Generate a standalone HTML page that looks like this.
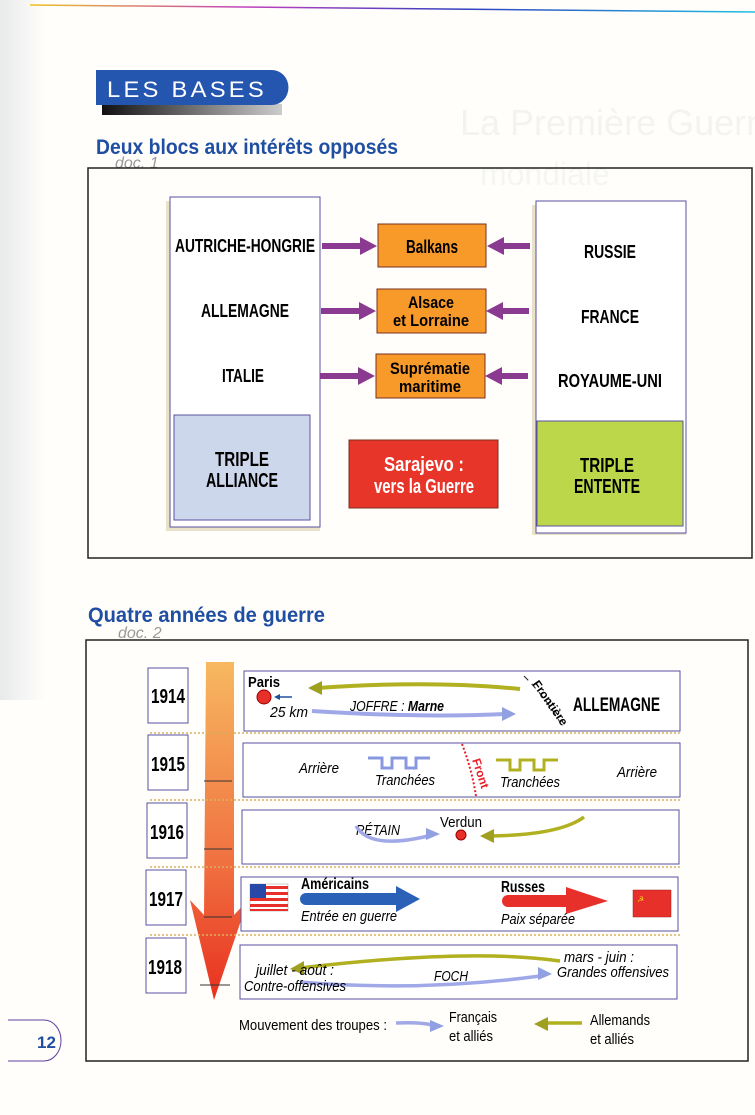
<!DOCTYPE html>
<html><head><meta charset="utf-8"><style>
html,body{margin:0;padding:0;background:#fffefb;}
svg{display:block;font-family:"Liberation Sans",sans-serif;}
.c{font-weight:bold;}
</style></head><body>
<svg width="755" height="1115" viewBox="0 0 755 1115" xmlns="http://www.w3.org/2000/svg">
<defs>
<linearGradient id="lg" x1="0" x2="1"><stop offset="0" stop-color="#d8dde0"/><stop offset="1" stop-color="#fffefb"/></linearGradient>
<linearGradient id="sh" x1="0" x2="1"><stop offset="0" stop-color="#111"/><stop offset="1" stop-color="#ccc"/></linearGradient>
<linearGradient id="va" x1="0" x2="0" y1="0" y2="1"><stop offset="0" stop-color="#f7b860"/><stop offset="0.6" stop-color="#f07040"/><stop offset="1" stop-color="#e83020"/></linearGradient>
<linearGradient id="rl" x1="0" x2="1"><stop offset="0" stop-color="#f0c020"/><stop offset="0.3" stop-color="#c040c0"/><stop offset="0.6" stop-color="#3040c0"/><stop offset="1" stop-color="#20c0e0"/></linearGradient>
</defs>
<rect width="755" height="1115" fill="#fffefb"/>
<rect x="0" y="0" width="45" height="700" fill="url(#lg)" opacity="0.6"/>
<line x1="30" y1="5" x2="755" y2="12" stroke="url(#rl)" stroke-width="1.5"/>
<!-- ghost title -->
<text x="460" y="135" font-size="36" fill="#f3f3ef">La Première Guerre</text>
<text x="480" y="185" font-size="32" fill="#f5f5f1">mondiale</text>

<!-- LES BASES -->
<rect x="102" y="104" width="180" height="11" fill="url(#sh)"/>
<path d="M96 70 H272 a16 17 0 0 1 0 35 H96 Z" fill="#2456b0"/>
<text x="107" y="97" font-size="22" fill="#fff" letter-spacing="3" textLength="160" lengthAdjust="spacingAndGlyphs">LES BASES</text>
<text x="96" y="154" font-size="21" fill="#1f4ea3" class="c" textLength="302" lengthAdjust="spacingAndGlyphs">Deux blocs aux intérêts opposés</text>
<text x="115" y="168" font-size="16" fill="#999" font-style="italic">doc. 1</text>

<!-- frame 1 -->
<rect x="88" y="168" width="664" height="390" fill="none" stroke="#222" stroke-width="1.5"/>
<!-- left column -->
<rect x="166" y="201" width="154" height="330" fill="#e8e2c8"/>
<rect x="170" y="197" width="150" height="330" fill="#fff" stroke="#5a50a0" stroke-width="1"/>
<rect x="174" y="415" width="136" height="105" fill="#cdd7ec" stroke="#5a50a0"/>
<text x="245" y="252" font-size="18" text-anchor="middle" class="c" textLength="140" lengthAdjust="spacingAndGlyphs">AUTRICHE-HONGRIE</text>
<text x="245" y="317" font-size="18" text-anchor="middle" class="c" textLength="88" lengthAdjust="spacingAndGlyphs">ALLEMAGNE</text>
<text x="243" y="382" font-size="18" text-anchor="middle" class="c" textLength="42" lengthAdjust="spacingAndGlyphs">ITALIE</text>
<text x="242" y="466" font-size="20" text-anchor="middle" class="c" textLength="54" lengthAdjust="spacingAndGlyphs">TRIPLE</text>
<text x="242" y="487" font-size="20" text-anchor="middle" class="c" textLength="72" lengthAdjust="spacingAndGlyphs">ALLIANCE</text>
<!-- right column -->
<rect x="532" y="205" width="154" height="330" fill="#e8e2c8"/>
<rect x="536" y="201" width="150" height="332" fill="#fff" stroke="#5a50a0"/>
<rect x="537" y="421" width="146" height="105" fill="#bcd84a" stroke="#5a50a0"/>
<text x="610" y="258" font-size="18" text-anchor="middle" class="c" textLength="52" lengthAdjust="spacingAndGlyphs">RUSSIE</text>
<text x="610" y="323" font-size="18" text-anchor="middle" class="c" textLength="58" lengthAdjust="spacingAndGlyphs">FRANCE</text>
<text x="610" y="387" font-size="18" text-anchor="middle" class="c" textLength="104" lengthAdjust="spacingAndGlyphs">ROYAUME-UNI</text>
<text x="607" y="472" font-size="20" text-anchor="middle" class="c" textLength="54" lengthAdjust="spacingAndGlyphs">TRIPLE</text>
<text x="607" y="493" font-size="20" text-anchor="middle" class="c" textLength="66" lengthAdjust="spacingAndGlyphs">ENTENTE</text>
<!-- center boxes -->
<g stroke="#7a3020">
<rect x="378" y="224" width="108" height="43" fill="#f79a2a"/>
<rect x="377" y="289" width="109" height="44" fill="#f79a2a"/>
<rect x="376" y="354" width="109" height="44" fill="#f79a2a"/>
<rect x="349" y="440" width="149" height="68" fill="#e8352a"/>
</g>
<text x="432" y="253" font-size="18" text-anchor="middle" class="c" textLength="52" lengthAdjust="spacingAndGlyphs">Balkans</text>
<text x="431" y="308" font-size="17" text-anchor="middle" class="c" textLength="46" lengthAdjust="spacingAndGlyphs">Alsace</text>
<text x="431" y="326" font-size="17" text-anchor="middle" class="c" textLength="76" lengthAdjust="spacingAndGlyphs">et Lorraine</text>
<text x="430" y="374" font-size="17" text-anchor="middle" class="c" textLength="80" lengthAdjust="spacingAndGlyphs">Suprématie</text>
<text x="430" y="392" font-size="17" text-anchor="middle" class="c" textLength="62" lengthAdjust="spacingAndGlyphs">maritime</text>
<text x="424" y="471" font-size="20" text-anchor="middle" class="c" fill="#fff" textLength="80" lengthAdjust="spacingAndGlyphs">Sarajevo :</text>
<text x="424" y="493" font-size="20" text-anchor="middle" class="c" fill="#fff" textLength="100" lengthAdjust="spacingAndGlyphs">vers la Guerre</text>
<!-- purple arrows -->
<g fill="#8a3a90">
<path d="M322 243 h38 v-6 l17 9 l-17 9 v-6 h-38 Z"/>
<path d="M321 308 h38 v-6 l17 9 l-17 9 v-6 h-38 Z"/>
<path d="M320 373 h38 v-6 l17 9 l-17 9 v-6 h-38 Z"/>
<path d="M530 243 h-26 v-6 l-17 9 l17 9 v-6 h26 Z"/>
<path d="M529 308 h-26 v-6 l-17 9 l17 9 v-6 h26 Z"/>
<path d="M528 373 h-26 v-6 l-17 9 l17 9 v-6 h26 Z"/>
</g>

<!-- section 2 -->
<text x="88" y="622" font-size="21" fill="#1f4ea3" class="c" textLength="237" lengthAdjust="spacingAndGlyphs">Quatre années de guerre</text>
<text x="118" y="638" font-size="16" fill="#999" font-style="italic">doc. 2</text>
<rect x="86" y="640" width="662" height="421" fill="none" stroke="#222" stroke-width="1.5"/>

<!-- year boxes -->
<g fill="#fff" stroke="#5a50a0">
<rect x="148" y="668" width="40" height="55"/>
<rect x="148" y="735" width="40" height="55"/>
<rect x="147" y="803" width="40" height="55"/>
<rect x="146" y="870" width="40" height="55"/>
<rect x="146" y="938" width="40" height="55"/>
</g>
<g font-size="20" class="c" text-anchor="middle">
<text x="168" y="703" textLength="34" lengthAdjust="spacingAndGlyphs">1914</text>
<text x="168" y="771" textLength="34" lengthAdjust="spacingAndGlyphs">1915</text>
<text x="167" y="839" textLength="34" lengthAdjust="spacingAndGlyphs">1916</text>
<text x="166" y="906" textLength="34" lengthAdjust="spacingAndGlyphs">1917</text>
<text x="165" y="974" textLength="34" lengthAdjust="spacingAndGlyphs">1918</text>
</g>
<!-- vertical arrow -->
<path d="M206 662 H234 V915 L248 900 L214 1000 L190 900 L204 915 Z" fill="url(#va)"/>
<g stroke="#333" stroke-width="1"><line x1="204" y1="781" x2="232" y2="781"/><line x1="204" y1="849" x2="232" y2="849"/><line x1="204" y1="917" x2="232" y2="917"/><line x1="200" y1="985" x2="230" y2="985"/></g>

<!-- dotted separators -->
<g stroke="#d8b060" stroke-width="1.5" stroke-dasharray="2 2">
<line x1="150" y1="733" x2="680" y2="733"/>
<line x1="150" y1="800" x2="680" y2="800"/>
<line x1="150" y1="867" x2="680" y2="867"/>
<line x1="150" y1="935" x2="680" y2="935"/>
</g>
<!-- row boxes -->
<g fill="#fff" stroke="#5a50a0">
<rect x="244" y="671" width="436" height="60"/>
<rect x="243" y="743" width="437" height="54"/>
<rect x="242" y="810" width="437" height="54"/>
<rect x="241" y="877" width="437" height="54"/>
<rect x="240" y="945" width="437" height="54"/>
</g>

<!-- 1914 -->
<text x="248" y="687" font-size="15" class="c" textLength="32" lengthAdjust="spacingAndGlyphs">Paris</text>
<circle cx="264" cy="697" r="7" fill="#e8302a" stroke="#900"/>
<line x1="292" y1="697" x2="276" y2="697" stroke="#2050a0" stroke-width="1.5"/><path d="M274 697 l6 -3 v6 Z" fill="#2050a0"/>
<text x="270" y="717" font-size="15" font-style="italic" textLength="38" lengthAdjust="spacingAndGlyphs">25 km</text>
<path d="M520 689 Q430 680 318 688" stroke="#b0b020" stroke-width="4" fill="none"/>
<path d="M308 688 l14 -7 v14 Z" fill="#a0a020"/>
<text x="350" y="711" font-size="15" font-style="italic" textLength="94" lengthAdjust="spacingAndGlyphs">JOFFRE : <tspan font-weight="bold">Marne</tspan></text>
<path d="M312 711 Q420 718 505 714" stroke="#a0a8e8" stroke-width="4" fill="none"/>
<path d="M516 714 l-14 -7 v14 Z" fill="#90a0e0"/>
<path d="M524 676 Q548 700 562 726" stroke="#222" stroke-width="1" stroke-dasharray="6 5" fill="none"/>
<text x="532" y="684" font-size="12" class="c" transform="rotate(55 532 684)">Frontière</text>
<text x="573" y="711" font-size="19" class="c" textLength="87" lengthAdjust="spacingAndGlyphs">ALLEMAGNE</text>
<!-- 1915 -->
<text x="299" y="773" font-size="15" font-style="italic" textLength="40" lengthAdjust="spacingAndGlyphs">Arrière</text>
<path d="M368 758 h14 v10 h10 v-10 h14 v10 h10 v-10 h14" stroke="#8898e0" stroke-width="3" fill="none"/>
<text x="375" y="785" font-size="15" font-style="italic" textLength="60" lengthAdjust="spacingAndGlyphs">Tranchées</text>
<path d="M462 744 Q472 770 476 796" stroke="#e8202a" stroke-width="2" stroke-dasharray="2 2" fill="none"/>
<text x="472" y="760" font-size="12" class="c" fill="#e8202a" transform="rotate(72 472 760)">Front</text>
<path d="M496 760 h14 v10 h10 v-10 h14 v10 h10 v-10 h14" stroke="#b0b020" stroke-width="3" fill="none"/>
<text x="500" y="787" font-size="15" font-style="italic" textLength="60" lengthAdjust="spacingAndGlyphs">Tranchées</text>
<text x="617" y="777" font-size="15" font-style="italic" textLength="40" lengthAdjust="spacingAndGlyphs">Arrière</text>
<!-- 1916 -->
<text x="356" y="835" font-size="15" font-style="italic" textLength="44" lengthAdjust="spacingAndGlyphs">PÉTAIN</text>
<path d="M356 826 Q370 850 428 836" stroke="#a0a8e8" stroke-width="3.5" fill="none"/>
<path d="M440 834 l-14 -6 v12 Z" fill="#90a0e0"/>
<text x="440" y="827" font-size="15" textLength="42" lengthAdjust="spacingAndGlyphs">Verdun</text>
<circle cx="461" cy="835" r="5" fill="#e8302a" stroke="#900"/>
<path d="M584 817 Q560 835 490 836" stroke="#b0b020" stroke-width="3.5" fill="none"/>
<path d="M480 836 l14 -7 v14 Z" fill="#a0a020"/>
<!-- 1917 -->
<g><rect x="250" y="884" width="38" height="27" fill="#fff" stroke="#999" stroke-width="0.5"/>
<g fill="#e8302a"><rect x="250" y="886" width="38" height="3"/><rect x="250" y="892" width="38" height="3"/><rect x="250" y="898" width="38" height="3"/><rect x="250" y="904" width="38" height="3"/><rect x="250" y="909" width="38" height="2"/></g>
<rect x="250" y="884" width="16" height="14" fill="#2848a8"/></g>
<text x="301" y="889" font-size="16" class="c" textLength="68" lengthAdjust="spacingAndGlyphs">Américains</text>
<path d="M306 893 H396 V886 L420 899 L396 912 V905 H306 a6 6 0 0 1 0 -12 Z" fill="#2b62b8"/>
<text x="301" y="921" font-size="15" font-style="italic" textLength="96" lengthAdjust="spacingAndGlyphs">Entrée en guerre</text>
<text x="501" y="892" font-size="16" class="c" textLength="44" lengthAdjust="spacingAndGlyphs">Russes</text>
<path d="M508 895 H566 V887 L608 901 L566 914 V907 H508 a6 6 0 0 1 0 -12 Z" fill="#e8302a"/>
<text x="501" y="924" font-size="15" font-style="italic" textLength="74" lengthAdjust="spacingAndGlyphs">Paix séparée</text>
<rect x="633" y="890" width="38" height="27" fill="#e8302a" stroke="#a02020" stroke-width="0.5"/>
<text x="637" y="902" font-size="8" fill="#f0d020">☭</text>
<!-- 1918 -->
<path d="M560 961 Q470 948 300 968" stroke="#b0b020" stroke-width="3.5" fill="none"/>
<path d="M290 969 l14 -8 v14 Z" fill="#a0a020"/>
<path d="M300 982 Q420 992 540 976" stroke="#a0a8e8" stroke-width="3.5" fill="none"/>
<path d="M552 974 l-14 -7 v13 Z" fill="#90a0e0"/>
<text x="434" y="981" font-size="15" font-style="italic" textLength="34" lengthAdjust="spacingAndGlyphs">FOCH</text>
<text x="256" y="975" font-size="15" font-style="italic" textLength="78" lengthAdjust="spacingAndGlyphs">juillet - août :</text>
<text x="244" y="991" font-size="15" font-style="italic" textLength="102" lengthAdjust="spacingAndGlyphs">Contre-offensives</text>
<text x="564" y="962" font-size="15" font-style="italic" textLength="70" lengthAdjust="spacingAndGlyphs">mars - juin :</text>
<text x="557" y="977" font-size="15" font-style="italic" textLength="112" lengthAdjust="spacingAndGlyphs">Grandes offensives</text>
<!-- legend -->
<text x="239" y="1030" font-size="15" textLength="148" lengthAdjust="spacingAndGlyphs">Mouvement des troupes :</text>
<path d="M396 1023 Q420 1022 432 1025" stroke="#a0a8e8" stroke-width="3.5" fill="none"/>
<path d="M444 1026 l-14 -6 v12 Z" fill="#90a0e0"/>
<text x="449" y="1022" font-size="15" textLength="48" lengthAdjust="spacingAndGlyphs">Français</text>
<text x="449" y="1041" font-size="15" textLength="44" lengthAdjust="spacingAndGlyphs">et alliés</text>
<path d="M582 1023 H548" stroke="#b0b020" stroke-width="3.5" fill="none"/>
<path d="M534 1024 l14 -7 v14 Z" fill="#a0a020"/>
<text x="590" y="1025" font-size="15" textLength="60" lengthAdjust="spacingAndGlyphs">Allemands</text>
<text x="590" y="1044" font-size="15" textLength="44" lengthAdjust="spacingAndGlyphs">et alliés</text>

<!-- page number -->
<path d="M8 1020 H44 a17 20.5 0 0 1 0 41 H8" fill="none" stroke="#6040a0" stroke-width="1"/>
<text x="37" y="1048" font-size="17" class="c" fill="#1f4ea3">12</text>
</svg>
</body></html>
